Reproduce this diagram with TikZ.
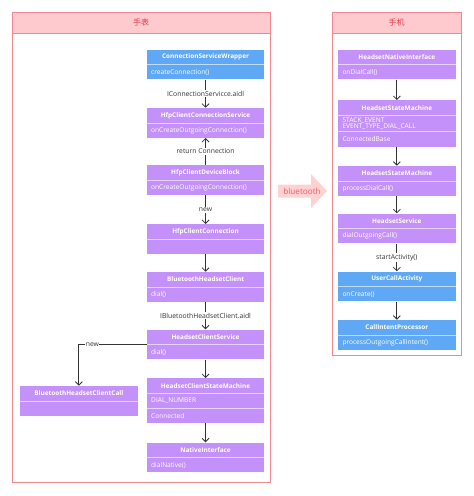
\documentclass[tikz,border=0pt]{standalone}
\usepackage{fontspec}
\setmainfont{Open Sans}
\newfontfamily\cjk{Noto Sans CJK SC}
\usetikzlibrary{arrows.meta,calc}
\definecolor{purp}{HTML}{C490FA}
\definecolor{blu}{HTML}{5EA8F5}
\definecolor{frm}{HTML}{F0888F}
\definecolor{frmfill}{HTML}{FFCACD}
\definecolor{frmtxt}{HTML}{E0404F}
\definecolor{btfill}{HTML}{FFD2D2}
\definecolor{bttxt}{HTML}{E86070}
\definecolor{linec}{HTML}{333333}
\begin{document}
\begin{tikzpicture}[x=1pt,y=-1pt,
  hdr/.style={anchor=north west, minimum width=117.3pt, minimum height=15pt, inner sep=0pt,
    text=white, font=\fontsize{6.4}{7}\selectfont\bfseries},
  row/.style={anchor=north west, text width=108.7pt, inner xsep=4.3pt, inner ysep=0pt,
    minimum height=14.5pt, align=left, text=white, font=\fontsize{6.6}{6.8}\selectfont},
  sepP/.style={draw=purp!40!white, line width=0.8pt},
  sepB/.style={draw=blu!40!white, line width=0.8pt},
  arr/.style={draw=linec, line width=0.8pt, -{Straight Barb[length=3.5pt,width=7pt]}},
  lbl/.style={fill=white, inner sep=1pt, text=black!80, font=\fontsize{6.8}{7}\selectfont},
  frame/.style={draw=frm, line width=1pt},
  ftitle/.style={text=frmtxt, font=\cjk\fontsize{8}{9}\selectfont, inner sep=0pt}
]
\useasboundingbox (0,0) rectangle (474,496);

% frames
\draw[frame] (12.3,12.7) rectangle (270,482.7);
\filldraw[frame, fill=frmfill] (12.3,12.7) rectangle (270,33);
\node[ftitle] (tw) at (141.15,22.9) {手表};
\draw[frame] (332.3,12.7) rectangle (461,355.7);
\filldraw[frame, fill=frmfill] (332.3,12.7) rectangle (461,33);
\node[ftitle] (tp) at (396.65,22.9) {手机};

% bluetooth arrow
\fill[btfill] (278,184.5) -- (311,184.5) -- (311,174) -- (327,191) -- (311,208) -- (311,197.5) -- (278,197.5) -- cycle;
\node[text=bttxt, font=\fontsize{8.2}{9}\selectfont, inner sep=0pt] (bt) at (302,191) {bluetooth};

% ---------- left (watch) ----------
\node[hdr,fill=blu] (csw) at (146.7,49.3) {ConnectionServiceWrapper};
\node[row,fill=blu] (cswr) at (csw.south west) {createConnection()};
\draw[sepB] (csw.south west) -- (csw.south east);

\node[hdr,fill=purp] (hccs) at (146.7,107.7) {HfpClientConnectionService};
\node[row,fill=purp] (hccsr) at (hccs.south west) {onCreateOutgoingConnection()};
\draw[sepP] (hccs.south west) -- (hccs.south east);

\node[hdr,fill=purp] (hcdb) at (146.7,165) {HfpClientDeviceBlock};
\node[row,fill=purp] (hcdbr) at (hcdb.south west) {onCreateOutgoingConnection()};
\draw[sepP] (hcdb.south west) -- (hcdb.south east);

\node[hdr,fill=purp] (hcc) at (146.7,224) {HfpClientConnection};
\node[row,fill=purp] (hccr) at (hcc.south west) {};
\draw[sepP] (hcc.south west) -- (hcc.south east);

\node[hdr,fill=purp] (bhc) at (146.7,271.7) {BluetoothHeadsetClient};
\node[row,fill=purp] (bhcr) at (bhc.south west) {dial()};
\draw[sepP] (bhc.south west) -- (bhc.south east);

\node[hdr,fill=purp] (hcs) at (146.7,329.3) {HeadsetClientService};
\node[row,fill=purp] (hcsr) at (hcs.south west) {dial()};
\draw[sepP] (hcs.south west) -- (hcs.south east);

\node[hdr,fill=purp] (hcsm) at (146.7,378) {HeadsetClientStateMachine};
\node[row,fill=purp] (hcsmr) at (hcsm.south west) {DIAL\_NUMBER};
\node[row,fill=purp] (hcsmr2) at (hcsmr.south west) {Connected};
\draw[sepP] (hcsm.south west) -- (hcsm.south east);
\draw[sepP] (hcsmr.south west) -- (hcsmr.south east);

\node[hdr,fill=purp] (ni) at (146.7,442.3) {NativeInterface};
\node[row,fill=purp] (nir) at (ni.south west) {dialNative()};
\draw[sepP] (ni.south west) -- (ni.south east);

\node[hdr,fill=purp] (bhcc) at (20,385.7) {BluetoothHeadsetClientCall};
\node[row,fill=purp] (bhccr) at (bhcc.south west) {};
\draw[sepP] (bhcc.south west) -- (bhcc.south east);

\draw[arr] (cswr.south) -- node[lbl] (l1) {IConnectionServicce.aidl} (hccs.north);
\draw[arr] (hcdb.north) -- node[lbl] (l2) {return Connection} (hccsr.south);
\draw[arr] (hcdbr.south) -- node[lbl] (l3) {new} (hcc.north);
\draw[arr] (hccr.south) -- (bhc.north);
\draw[arr] (bhcr.south) -- node[lbl] (l4) {IBluetoothHeadsetClient.aidl} (hcs.north);
\draw[arr] (hcsr.south) -- (hcsm.north);
\draw[arr] (hcsmr2.south) -- (ni.north);
\draw[arr] (hcs.south west) -| node[lbl, pos=0.4, inner sep=0.5pt] (l5) {new} (bhcc.north);

% ---------- right (phone) ----------
\node[hdr,fill=purp] (hni) at (338,49.3) {HeadsetNativeInterface};
\node[row,fill=purp] (hnir) at (hni.south west) {onDialCall()};
\draw[sepP] (hni.south west) -- (hni.south east);

\node[hdr,fill=purp] (hsm) at (338,100) {HeadsetStateMachine};
\node[row,fill=purp,minimum height=16pt] (hsmr) at (hsm.south west) {STACK\_EVENT\\EVENT\_TYPE\_DIAL\_CALL};
\node[row,fill=purp] (hsmr2) at (hsmr.south west) {ConnectedBase};
\draw[sepP] (hsm.south west) -- (hsm.south east);
\draw[sepP] (hsmr.south west) -- (hsmr.south east);

\node[hdr,fill=purp] (hsmb) at (338,165.7) {HeadsetStateMachine};
\node[row,fill=purp] (hsmbr) at (hsmb.south west) {processDialCall()};
\draw[sepP] (hsmb.south west) -- (hsmb.south east);

\node[hdr,fill=purp] (hs) at (338,213.3) {HeadsetService};
\node[row,fill=purp] (hsr) at (hs.south west) {dialOutgoingCall()};
\draw[sepP] (hs.south west) -- (hs.south east);

\node[hdr,fill=blu] (uca) at (338,271.3) {UserCallActivity};
\node[row,fill=blu] (ucar) at (uca.south west) {onCreate()};
\draw[sepB] (uca.south west) -- (uca.south east);

\node[hdr,fill=blu] (cip) at (338,319.7) {CallIntentProcessor};
\node[row,fill=blu] (cipr) at (cip.south west) {processOutgoingCallIntent()};
\draw[sepB] (cip.south west) -- (cip.south east);

\draw[arr] (hnir.south) -- (hsm.north);
\draw[arr] (hsmr2.south) -- (hsmb.north);
\draw[arr] (hsmbr.south) -- (hs.north);
\draw[arr] (hsr.south) -- node[lbl] (l6) {startActivity()} (uca.north);
\draw[arr] (ucar.south) -- (cip.north);
\end{tikzpicture}
\end{document}
